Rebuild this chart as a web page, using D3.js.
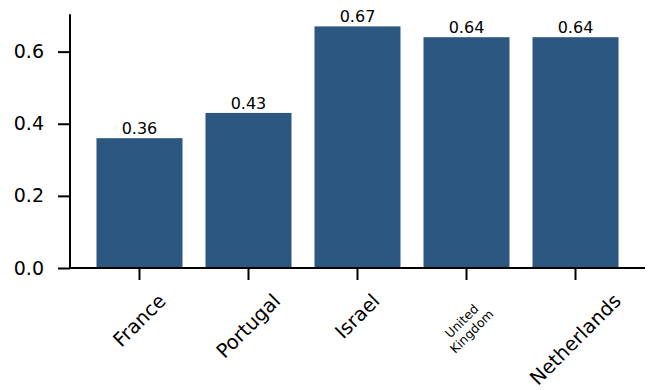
<!DOCTYPE html>
<html><head><meta charset="utf-8">
<script src="https://cdn.jsdelivr.net/npm/d3@7"></script>
<style>body{margin:0;background:#fff;} text{font-family:"DejaVu Sans",sans-serif;}</style>
</head><body>
<svg id="c" width="651" height="390"></svg>
<script>
const categories = ["France", "Portugal", "Israel", "United Kingdom", "Netherlands"];
const values = [0.36, 0.43, 0.67, 0.64, 0.64];
const yTicks = [0.0, 0.2, 0.4, 0.6];

const svg = d3.select("#c");
const mLeft = 70, mRight = 645, mBottom = 268, mTop = 14.3;
const x = d3.scaleBand().domain(categories).range([mLeft, mRight]).paddingInner(0.211).paddingOuter(0.243);
const y = d3.scaleLinear().domain([0, d3.max(values) * 1.05]).range([mBottom, mTop]);
const color = "#2b5781";

svg.selectAll("rect.bar").data(categories).enter().append("rect")
  .attr("class", "bar")
  .attr("x", d => x(d)).attr("width", x.bandwidth())
  .attr("y", (d, i) => y(values[i])).attr("height", (d, i) => mBottom - y(values[i]))
  .attr("fill", color);

svg.selectAll("text.val").data(categories).enter().append("text")
  .attr("class", "val")
  .attr("x", d => x(d) + x.bandwidth() / 2)
  .attr("y", (d, i) => y(values[i]) - 4)
  .attr("text-anchor", "middle")
  .attr("font-size", 16)
  .attr("fill", "#000")
  .text((d, i) => values[i].toFixed(2));

// y axis
const yAxis = d3.axisLeft(y).tickValues(yTicks).tickFormat(d3.format(".1f")).tickSize(12).tickPadding(14);
const gy = svg.append("g").attr("transform", `translate(${mLeft},0)`).call(yAxis);
gy.select(".domain").attr("stroke", "#000").attr("stroke-width", 2).attr("d", `M0,${mBottom}V${mTop}`);
gy.selectAll(".tick line").attr("stroke", "#000").attr("stroke-width", 2);
gy.selectAll(".tick text").attr("font-size", 19).attr("fill", "#000").attr("font-family", "DejaVu Sans");

// x axis
const xAxis = d3.axisBottom(x).tickSize(12).tickFormat("");
const gx = svg.append("g").attr("transform", `translate(0,${mBottom})`).call(xAxis);
gx.select(".domain").attr("stroke", "#000").attr("stroke-width", 2).attr("d", `M${mLeft},0H${mRight}`);
gx.selectAll(".tick line").attr("stroke", "#000").attr("stroke-width", 2);

const labelTop = 290;
categories.forEach(c => {
  const cx = x(c) + x.bandwidth() / 2;
  if (c === "United Kingdom") {
    const fs = 12.5;
    const g = svg.append("g");
    const t = g.append("text").attr("text-anchor", "middle").attr("font-size", fs).attr("fill", "#000");
    t.append("tspan").attr("x", 0).attr("dy", "-0.2em").text("United");
    t.append("tspan").attr("x", 0).attr("dy", "1.15em").text("Kingdom");
    g.attr("transform", `translate(${cx},${326}) rotate(-45)`);
  } else {
    const fs = 19.5;
    const t = svg.append("text").attr("text-anchor", "middle").attr("dominant-baseline", "central")
      .attr("font-size", fs).attr("fill", "#000").text(c);
    const w = t.node().getComputedTextLength();
    const h = fs * 1.1;
    const ext = (w + h) / Math.SQRT2;
    t.attr("transform", `translate(${cx},${labelTop + ext / 2}) rotate(-45)`);
  }
});
</script>
</body></html>
